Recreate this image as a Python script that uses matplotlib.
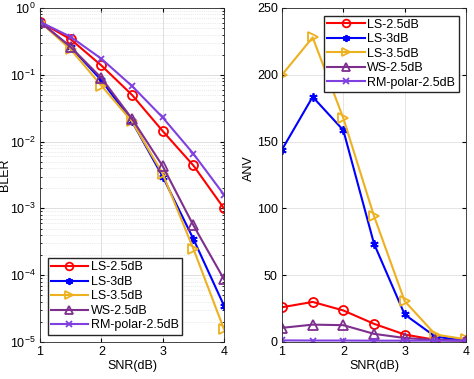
import matplotlib
matplotlib.use("Agg")
import matplotlib.pyplot as plt
import numpy as np

plt.rcParams['font.family'] = ['Liberation Sans', 'DejaVu Sans']
plt.rcParams['mathtext.fontset'] = 'custom'
plt.rcParams['mathtext.rm'] = 'Liberation Sans'

snr = [1, 1.5, 2, 2.5, 3, 3.5, 4]
labels = ['LS-2.5dB', 'LS-3dB', 'LS-3.5dB', 'WS-2.5dB', 'RM-polar-2.5dB']

bler_ls25 = [0.62, 0.34, 0.138, 0.050, 0.0144, 0.0044, 1.0e-3]
bler_ls3 = [0.62, 0.26, 0.083, 0.020, 0.0030, 3.5e-4, 3.5e-5]
bler_ls35 = [0.62, 0.24, 0.069, 0.020, 0.0033, 2.5e-4, 1.55e-5]
bler_ws25 = [0.62, 0.26, 0.090, 0.022, 0.0043, 5.6e-4, 8.7e-5]
bler_rm25 = [0.62, 0.37, 0.174, 0.068, 0.023, 0.0066, 1.6e-3]

anv_ls25 = [26, 30, 23.6, 13.6, 5.6, 1.6, 1.0]
anv_ls3 = [144, 183.5, 158.5, 73.6, 20.6, 4.0, 1.0]
anv_ls35 = [200, 228, 167.5, 94.3, 30.6, 5.6, 2.0]
anv_ws25 = [10.6, 13, 12.6, 6.1, 3.0, 1.5, 1.0]
anv_rm25 = [1.2, 1.1, 1.1, 1.0, 1.0, 1.0, 1.0]

colors = ['#FF0000', '#0000FF', '#EDB120', '#7E2F8E', '#8040E0']
markers = ['o', (6, 2, 0), '>', '^', 'x']
msizes = [6.5, 6, 6.5, 6.5, 4.5]

bler = [bler_ls25, bler_ls3, bler_ls35, bler_ws25, bler_rm25]
anv = [anv_ls25, anv_ls3, anv_ls35, anv_ws25, anv_rm25]

fig = plt.figure(figsize=(4.74, 3.79), dpi=100)
ax1 = fig.add_axes([40/474, 1-342/379, 184/474, 334/379])
ax2 = fig.add_axes([282/474, 1-342/379, 184/474, 334/379])

for i in range(5):
    ax1.semilogy(snr, bler[i], color=colors[i], marker=markers[i], ms=msizes[i],
                 mfc='none', mec=colors[i], mew=1.3, lw=1.5, label=labels[i])
    ax2.plot(snr, anv[i], color=colors[i], marker=markers[i], ms=msizes[i],
             mfc='none', mec=colors[i], mew=1.3, lw=1.5, label=labels[i])

fs = 9
ax1.set_xlim(1, 4)
ax1.set_ylim(1e-5, 1)
ax1.set_xticks([1, 2, 3, 4])
ax1.set_xlabel('SNR(dB)', fontsize=fs, labelpad=1)
ax1.set_ylabel('BLER', fontsize=fs)
ax1.yaxis.set_label_coords(-0.16, 0.5)
ax1.grid(True, which='major', color='#d9d9d9', lw=0.6)
ax1.grid(True, which='minor', color='#d9d9d9', lw=0.5, ls=':')
ax1.legend(loc='lower left', fontsize=fs, frameon=True, fancybox=False,
           edgecolor='#262626', framealpha=1, borderpad=0.25, labelspacing=0.2,
           handlelength=3.0, handletextpad=0.2, borderaxespad=0.6,
           markerscale=0.85)

ax2.set_xlim(1, 4)
ax2.set_ylim(0, 250)
ax2.set_xticks([1, 2, 3, 4])
ax2.set_yticks([0, 50, 100, 150, 200, 250])
ax2.set_xlabel('SNR(dB)', fontsize=fs, labelpad=1)
ax2.set_ylabel('ANV', fontsize=fs)
ax2.yaxis.set_label_coords(-0.145, 0.52)
ax2.grid(True, which='major', color='#e0e0e0', lw=0.6)
ax2.legend(loc='upper right', fontsize=fs, frameon=True, fancybox=False,
           edgecolor='#262626', framealpha=1, borderpad=0.25, labelspacing=0.2,
           handlelength=3.0, handletextpad=0.2, borderaxespad=0.6,
           markerscale=0.85)

for ax in (ax1, ax2):
    ax.set_axisbelow(True)
    ax.tick_params(labelsize=fs, direction='in', length=3, which='major',
                   top=True, right=True, pad=3)
    ax.tick_params(which='minor', direction='in', length=1.5, top=True, right=True)
    for s in ax.spines.values():
        s.set_color('#262626')
        s.set_linewidth(0.6)

fig.savefig('out.png', dpi=100)
